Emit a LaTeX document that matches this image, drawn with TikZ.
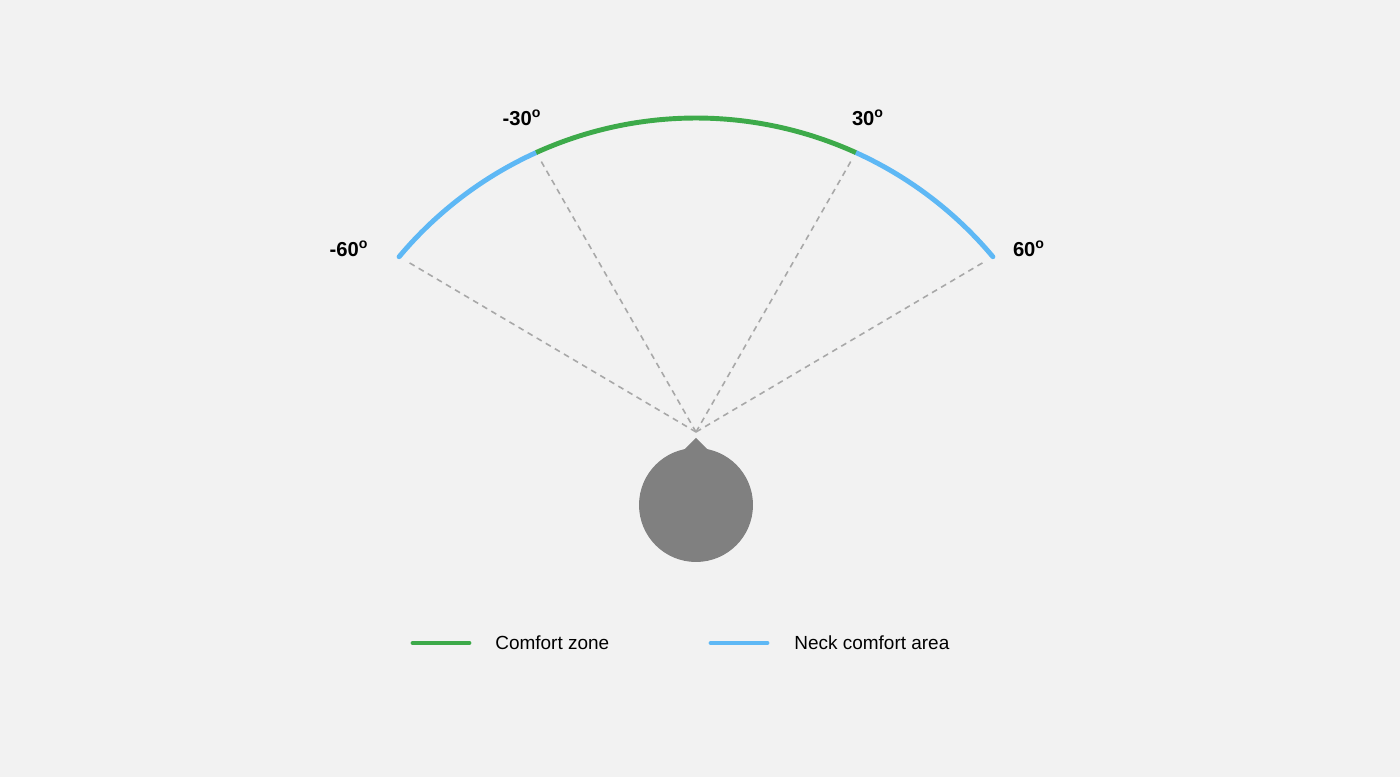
\documentclass[tikz,border=0pt]{standalone}
\usepackage{fontspec}
\setmainfont{Liberation Sans}
\definecolor{bggray}{HTML}{F2F2F2}
\definecolor{zonegreen}{HTML}{3DAA4A}
\definecolor{neckblue}{HTML}{5EB8F5}
\definecolor{headgray}{HTML}{808080}
\definecolor{guidegray}{HTML}{A8A8A8}

\begin{document}
\begin{tikzpicture}[x=0.02cm,y=0.02cm,
  zone/.style={line width=2.8pt},
  guide/.style={draw=guidegray,dash pattern=on 3.3pt off 2.7pt,line width=0.9pt},
  ang/.style={font=\fontsize{11.5}{14}\selectfont\bfseries},
  legend/.style={anchor=west,inner sep=0pt,font=\fontsize{10.8}{13}\selectfont}]
\fill[bggray] (0,0) rectangle (1400,777);
\coordinate (c) at (696,272);
\coordinate (apex) at (696,345);
\foreach \n/\a in {m60/140.1,m30/114.4,p30/65.6,p60/39.9}
  \coordinate (\n) at ([shift={(\a:387)}]c);
% guide lines
\foreach \n in {m60,m30,p30,p60}
  \draw[guide,shorten >=5pt] (apex) -- (\n);
% arc
\draw[zone,neckblue,line cap=round] (m60) arc[start angle=140.1,end angle=114.4,radius=7.74cm];
\draw[zone,neckblue,line cap=round] (p30) arc[start angle=65.6,end angle=39.9,radius=7.74cm];
\draw[zone,zonegreen] (m30) arc[start angle=114.4,end angle=65.6,radius=7.74cm];
% head
\node[circle,fill=headgray,minimum size=2.28cm,inner sep=0pt] (head) at (c) {};
\fill[headgray] (683,326) -- (696,339) -- (709,326) -- cycle;
% labels
\node[ang] (lm60) at (349,528) {-60\textsuperscript{o}};
\node[ang] (lm30) at (522,659) {-30\textsuperscript{o}};
\node[ang] (lp30) at (868,659) {30\textsuperscript{o}};
\node[ang] (lp60) at (1029,528) {60\textsuperscript{o}};
% legend
\draw[zone,zonegreen,line cap=round] (413,134) -- (469,134);
\node[legend] (comfort) at (495,134) {Comfort zone};
\draw[zone,neckblue,line cap=round] (711,134) -- (767,134);
\node[legend] (neck) at (794,134) {Neck comfort area};
\end{tikzpicture}
\end{document}
